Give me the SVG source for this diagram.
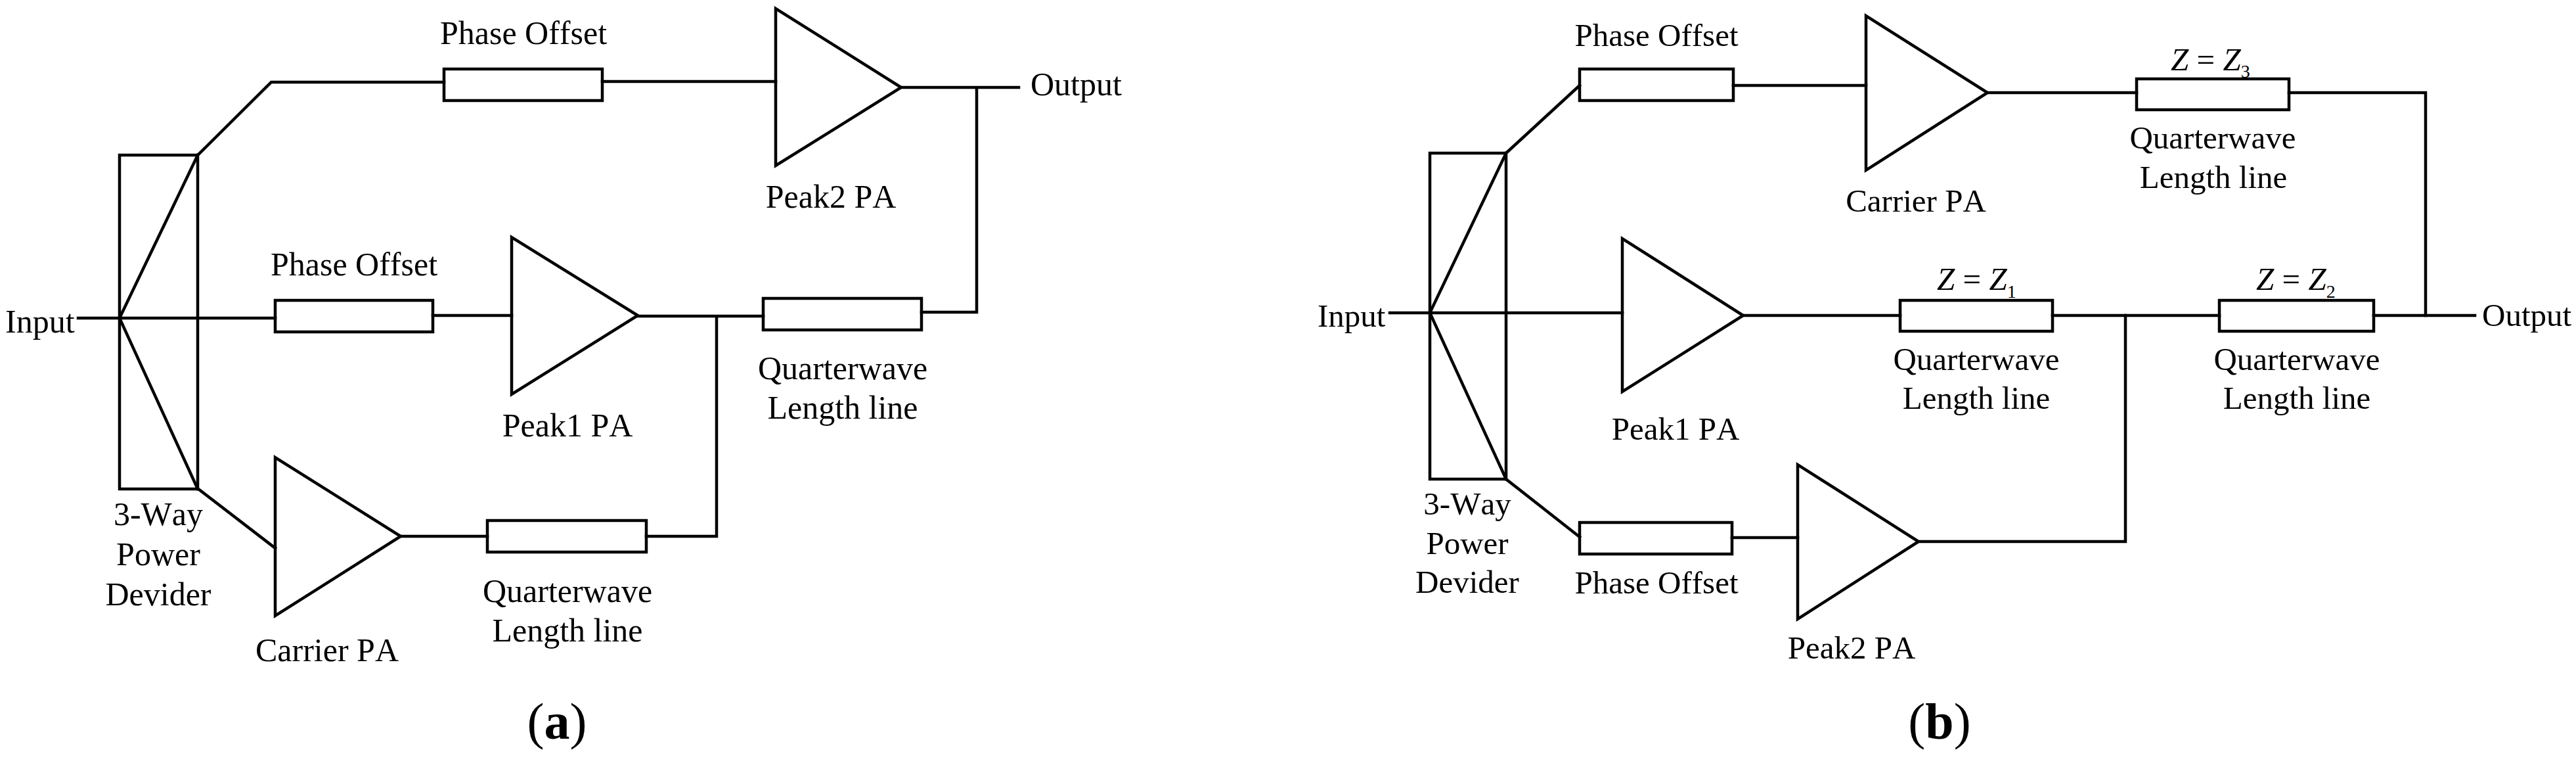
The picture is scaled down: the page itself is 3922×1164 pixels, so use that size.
<svg xmlns="http://www.w3.org/2000/svg" width="3922" height="1164" viewBox="0 0 3922 1164">
<style>
.s{fill:none;stroke:#000;stroke-width:4.5;stroke-linejoin:miter;stroke-linecap:square}
text{font-family:"Liberation Serif","Times New Roman",serif;fill:#000;font-kerning:none}
.a{font-size:50px}
.b{font-size:49px}
.m{text-anchor:middle}
.cap{font-size:78px;text-anchor:middle}
.sub{font-size:28px}
</style>
<rect width="3922" height="1164" fill="#fff"/>
<g id="connectors" class="s">
<path d="M119 484H419M659 480H779"/>
<path d="M301 236L413 125H676M917 124H1181"/>
<path d="M1372 133H1551M1487 133V475H1403"/>
<path d="M971 481H1162M1091 481V816H984M610 816H742"/>
<path d="M302 744L419 834"/>
<path d="M2116 476H2470"/>
<path d="M2293 233L2405 130M2639 130H2841"/>
<path d="M2293 729L2405 817M2637 818H2737"/>
<path d="M2654 480H2893M3125 480H3379M3614 480H3768"/>
<path d="M3236 480V824H2921"/>
<path d="M3026 141H3253M3485 141H3693V480"/>
</g>
<g id="a-divider"><rect class="s" x="182" y="236" width="119" height="508"/><path class="s" d="M301 236L182 484L301 744"/>
<text class="a m" x="241" y="799">3-Way</text><text class="a m" x="241" y="860">Power</text><text class="a m" x="241" y="921">Devider</text></g>
<g id="a-input"><text class="a" x="8" y="506">Input</text></g>
<g id="a-output"><text class="a" x="1569" y="145">Output</text></g>
<g id="a-phase1"><rect class="s" x="676" y="105" width="241" height="48"/><text class="a m" x="797" y="67">Phase Offset</text></g>
<g id="a-phase2"><rect class="s" x="419" y="457" width="240" height="48"/><text class="a m" x="539" y="419">Phase Offset</text></g>
<g id="a-peak2"><path class="s" d="M1181 13V252L1372 133Z"/><text class="a m" x="1265" y="316">Peak2 PA</text></g>
<g id="a-peak1"><path class="s" d="M779 361V600L971 480Z"/><text class="a m" x="864" y="664">Peak1 PA</text></g>
<g id="a-carrier"><path class="s" d="M419 696V937L610 816Z"/><text class="a m" x="498" y="1006">Carrier PA</text></g>
<g id="a-qw1"><rect class="s" x="1162" y="454" width="241" height="48"/><text class="a m" x="1283" y="577">Quarterwave</text><text class="a m" x="1283" y="637">Length line</text></g>
<g id="a-qw2"><rect class="s" x="742" y="792" width="242" height="48"/><text class="a m" x="864" y="916">Quarterwave</text><text class="a m" x="864" y="976">Length line</text></g>
<g id="a-caption"><text class="cap" x="848" y="1124">(<tspan font-weight="bold">a</tspan>)</text></g>
<g id="b-divider"><rect class="s" x="2177" y="233" width="116" height="496"/><path class="s" d="M2293 233L2177 476L2293 729"/>
<text class="b m" x="2234" y="783">3-Way</text><text class="b m" x="2234" y="843">Power</text><text class="b m" x="2234" y="902">Devider</text></g>
<g id="b-input"><text class="b" x="2006" y="497">Input</text></g>
<g id="b-output"><text class="b" x="3779" y="496">Output</text></g>
<g id="b-phase1"><rect class="s" x="2405" y="105" width="234" height="48"/><text class="b m" x="2522" y="70">Phase Offset</text></g>
<g id="b-phase2"><rect class="s" x="2405" y="795" width="232" height="48"/><text class="b m" x="2522" y="903">Phase Offset</text></g>
<g id="b-carrier"><path class="s" d="M2841 24V259L3026 141Z"/><text class="b m" x="2917" y="322">Carrier PA</text></g>
<g id="b-peak1"><path class="s" d="M2470 363V596L2654 480Z"/><text class="b m" x="2551" y="669">Peak1 PA</text></g>
<g id="b-peak2"><path class="s" d="M2737 707V942L2921 824Z"/><text class="b m" x="2819" y="1002">Peak2 PA</text></g>
<g id="b-z3"><rect class="s" x="3253" y="120" width="232" height="47"/><text class="b" x="3305" y="107"><tspan font-style="italic">Z</tspan> = <tspan font-style="italic">Z</tspan><tspan class="sub" dy="11">3</tspan></text><text class="b m" x="3369" y="226">Quarterwave</text><text class="b m" x="3370" y="286">Length line</text></g>
<g id="b-z1"><rect class="s" x="2893" y="457" width="232" height="47"/><text class="b" x="2949" y="441"><tspan font-style="italic">Z</tspan> = <tspan font-style="italic">Z</tspan><tspan class="sub" dy="12">1</tspan></text><text class="b m" x="3009" y="563">Quarterwave</text><text class="b m" x="3009" y="622">Length line</text></g>
<g id="b-z2"><rect class="s" x="3379" y="457" width="235" height="47"/><text class="b" x="3435" y="441"><tspan font-style="italic">Z</tspan> = <tspan font-style="italic">Z</tspan><tspan class="sub" dy="12">2</tspan></text><text class="b m" x="3497" y="563">Quarterwave</text><text class="b m" x="3497" y="622">Length line</text></g>
<g id="b-caption"><text class="cap" x="2953" y="1124">(<tspan font-weight="bold">b</tspan>)</text></g>
</svg>
